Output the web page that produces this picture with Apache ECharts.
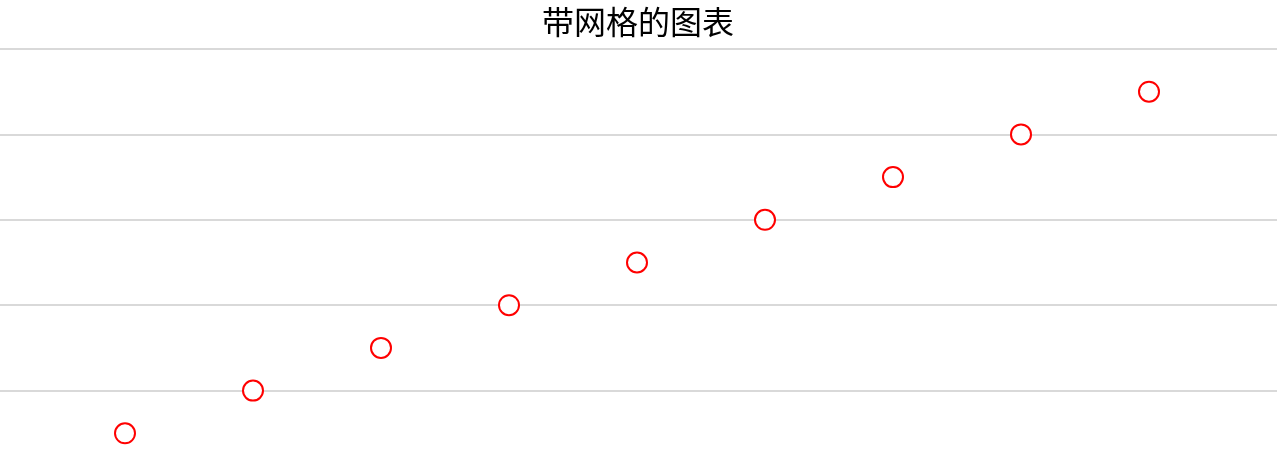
<!DOCTYPE html>
<html lang="zh">
<head>
    <meta charset="UTF-8">
    <script src="https://cdn.jsdelivr.net/npm/echarts@6/dist/echarts.min.js"></script>
    <title>带网格的图表</title>
    <style>
        html, body { margin: 0; padding: 0; width: 100%; height: 100%; background: #fff; overflow: hidden; }
        #chart { position: absolute; left: -3px; top: 0; width: 1282px; height: 476px; }
    </style>
</head>
<body>
    <div id="chart"></div>
    <script>
        var titleText = '带网格的图表';
        var xValues = [1, 2, 3, 4, 5, 6, 7, 8, 9];
        var yValues = [1, 2, 3, 4, 5, 6, 7, 8, 9];

        var points = xValues.map(function (x, i) { return [x, yValues[i]]; });

        var myChart = echarts.init(document.getElementById('chart'));
        myChart.setOption({
            animation: false,
            title: {
                text: titleText,
                left: 'center',
                top: 1,
                textStyle: {
                    fontFamily: 'Noto Sans CJK SC',
                    fontSize: 32,
                    fontWeight: 'normal',
                    color: '#000'
                }
            },
            // container is shifted 3px left and runs 4px past the bottom of the window
            grid: { left: 0, right: 2, top: 49, bottom: 0 },
            xAxis: {
                type: 'value',
                min: 0,
                max: 10,
                show: false
            },
            yAxis: {
                type: 'value',
                min: 0,
                max: 10,
                interval: 2,
                axisLine: { show: false },
                axisTick: { show: false },
                axisLabel: { show: false },
                splitLine: { lineStyle: { color: '#ccc', width: 1.5 } }
            },
            series: [{
                type: 'scatter',
                data: points,
                symbol: 'circle',
                symbolSize: 20,
                itemStyle: {
                    color: '#fff',
                    borderColor: '#f00',
                    borderWidth: 2,
                    opacity: 1
                }
            }]
        });
    </script>
</body>
</html>
